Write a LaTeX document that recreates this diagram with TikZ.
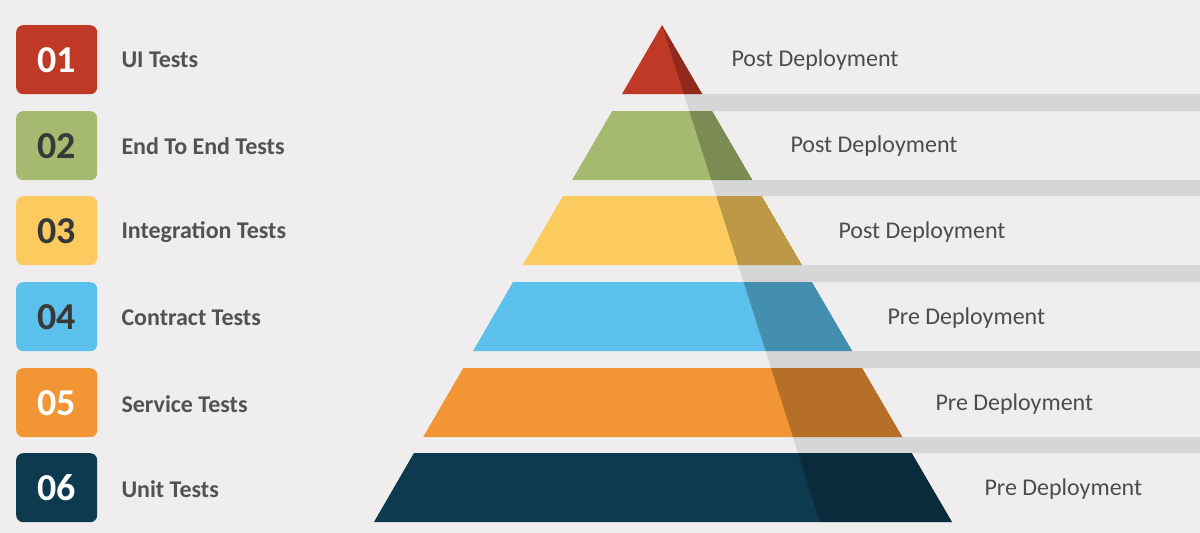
\documentclass[tikz,border=0pt]{standalone}
\usepackage{fontspec}
\setmainfont{Carlito}
\begin{document}
\begin{tikzpicture}[x=1pt,y=-1pt,
  numbox/.style={rounded corners=7pt,minimum width=81pt,minimum height=69pt,inner sep=0pt,anchor=north west,font=\fontsize{38}{38}\selectfont\bfseries},
  lefttext/.style={anchor=west,text=black!68,font=\fontsize{24}{24}\selectfont\bfseries},
  righttext/.style={anchor=west,text=black!70,font=\fontsize{24}{24}\selectfont}]
\fill[white!93!black!100] (0,0) rectangle (1200,533);
\fill[color={rgb,255:red,239;green,237;blue,237}] (0,0) rectangle (1200,533);
\useasboundingbox (0,0) rectangle (1200,533);
\def\Lx#1{662-0.5795*(#1-25)}
\def\Rx#1{662+0.5835*(#1-25)}
\def\Sx#1{662+0.3179*(#1-25)}
% gray bars
\foreach \a/\b in {94/111,180/196,265/282,351/368,437/453}{
  \fill[color={rgb,255:red,214;green,214;blue,214}] ({\Sx{\a}},\a) -- (1200,\a) -- (1200,\b) -- ({\Sx{\b}},\b) -- cycle;
}
% bands
\foreach \t/\bo/\c in {25/94/{rgb,255:red,192;green,57;blue,39},111/180/{rgb,255:red,166;green,185;blue,112},196/265/{rgb,255:red,252;green,203;blue,95},282/351/{rgb,255:red,91;green,192;blue,235},368/437/{rgb,255:red,242;green,149;blue,52},453/522/{rgb,255:red,14;green,58;blue,80}}{
  \begin{scope}
  \fill[color=\c] ({\Lx{\t}},\t) -- ({\Rx{\t}},\t) -- ({\Rx{\bo}},\bo) -- ({\Lx{\bo}},\bo) -- cycle;
  \clip ({\Lx{\t}},\t) -- ({\Rx{\t}},\t) -- ({\Rx{\bo}},\bo) -- ({\Lx{\bo}},\bo) -- cycle;
  \fill[black,opacity=0.25] (662,25) -- ({\Sx{522}},522) -- ({\Rx{522}},522) -- cycle;
  \end{scope}
}
% left boxes
\node[numbox,fill={rgb,255:red,192;green,57;blue,39},text=white] (n1) at (16,25) {01};
\node[numbox,fill={rgb,255:red,166;green,185;blue,112},text=black!78] (n2) at (16,111) {02};
\node[numbox,fill={rgb,255:red,252;green,203;blue,95},text=black!78] (n3) at (16,196) {03};
\node[numbox,fill={rgb,255:red,91;green,192;blue,235},text=black!78] (n4) at (16,282) {04};
\node[numbox,fill={rgb,255:red,242;green,149;blue,52},text=white] (n5) at (16,368) {05};
\node[numbox,fill={rgb,255:red,14;green,58;blue,80},text=white] (n6) at (16,453) {06};
\node[lefttext] (l1) at (118,60) {UI Tests};
\node[lefttext] (l2) at (118,146) {End To End Tests};
\node[lefttext] (l3) at (118,232) {Integration Tests};
\node[lefttext] (l4) at (118,318) {Contract Tests};
\node[lefttext] (l5) at (118,404) {Service Tests};
\node[lefttext] (l6) at (118,489) {Unit Tests};
\node[righttext] (r1) at (728,60) {Post Deployment};
\node[righttext] (r2) at (787,146) {Post Deployment};
\node[righttext] (r3) at (835,232) {Post Deployment};
\node[righttext] (r4) at (884,318) {Pre Deployment};
\node[righttext] (r5) at (932,404) {Pre Deployment};
\node[righttext] (r6) at (981,489) {Pre Deployment};
\end{tikzpicture}
\end{document}
